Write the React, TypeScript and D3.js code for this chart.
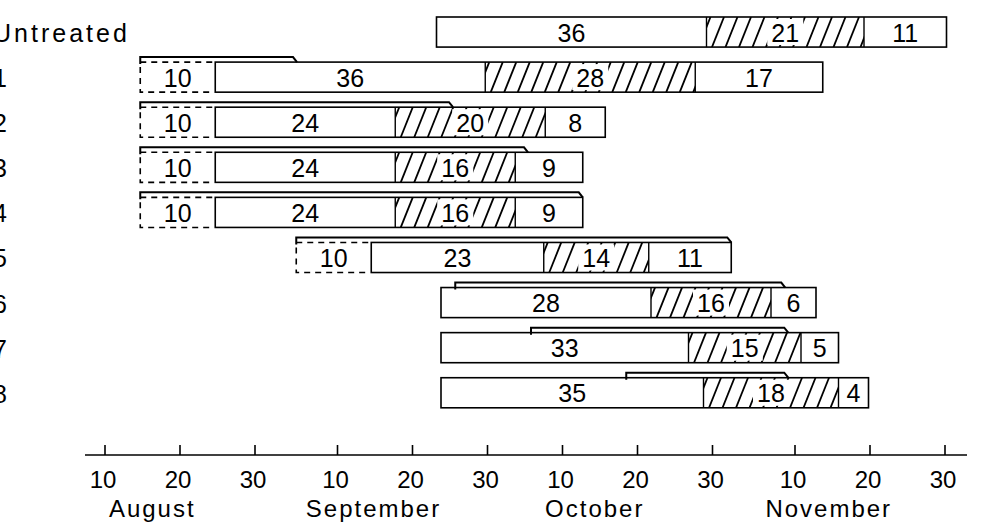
import React from "react";
import * as d3 from "d3";

// ---- data ----
const rowLabels = ["Untreated", "1", "2", "3", "4", "5", "6", "7", "8"];
// start of the solid bar, [month, day] (fractional day)
const barStart: [number, number][] = [
  [9, 23.2], [8, 24.7], [8, 24.7], [8, 24.7], [8, 24.7], [9, 14.5], [9, 23.8], [9, 23.8], [9, 23.8],
];
// dashed pre-period length (days)
const preDays = [0, 10, 10, 10, 10, 10, 0, 0, 0];
const phase1 = [36, 36, 24, 24, 24, 23, 28, 33, 35];
const phase2 = [21, 28, 20, 16, 16, 14, 16, 15, 18]; // hatched
const phase3 = [11, 17, 8, 9, 9, 11, 6, 5, 4];
// treatment period line above the bar
const treatStart: ([number, number] | null)[] = [
  null, [8, 14.7], [8, 14.7], [8, 14.7], [8, 14.7], [9, 4.5], [9, 25.7], [10, 5.8], [10, 18.5],
];
const treatEnd: ([number, number] | null)[] = [
  null, [9, 4.6], [9, 25.4], [10, 5.4], [10, 12.7], [11, 1.5], [11, 8.7], [11, 9.1], [11, 9.1],
];
const tickDates: [number, number][] = [
  [8, 10], [8, 20], [8, 30], [9, 10], [9, 20], [9, 30], [10, 10], [10, 20], [10, 30], [11, 10], [11, 20], [11, 30],
];
const tickLabels = ["10", "20", "30", "10", "20", "30", "10", "20", "30", "10", "20", "30"];
const monthLabels = ["August", "September", "October", "November"];
const monthLabelDates: [number, number][] = [[8, 16.3], [9, 14.8], [10, 14.3], [11, 14.5]];

const YEAR = 1981;
const DAY = 864e5;
const toDate = ([m, d]: [number, number]) => new Date(Date.UTC(YEAR, m - 1, 1) + (d - 1) * DAY);
const addDays = (dt: Date, n: number) => new Date(dt.getTime() + n * DAY);

const W = 987;
const H = 532;
const FONT = "'Liberation Sans', Arial, sans-serif";

export default function App() {
  const x = d3
    .scaleUtc()
    .domain([toDate([8, 10]), toDate([11, 30])])
    .range([105, 945]);
  const y = d3.scaleBand<string>().domain(rowLabels).range([17, 407.8]).paddingInner(0.333).paddingOuter(0);
  const bh = y.bandwidth();
  const axisY = 455;
  const hatchStep = 13.5;
  const hatchDx = 12;

  return (
    <svg
      width={W}
      height={H}
      viewBox={`0 0 ${W} ${H}`}
      style={{ position: "absolute", left: 0, top: 0, background: "#fff" }}
    >
      <rect x={0} y={0} width={W} height={H} fill="#fff" />
      <defs>
        {rowLabels.map((lab, i) => {
          const s = toDate(barStart[i]);
          const a = x(addDays(s, phase1[i]));
          const b = x(addDays(s, phase1[i] + phase2[i]));
          return (
            <clipPath id={`hc${i}`} key={i}>
              <rect x={a} y={y(lab)!} width={b - a} height={bh} />
            </clipPath>
          );
        })}
      </defs>

      {/* row labels */}
      {rowLabels.map((lab, i) => (
        <text
          key={"l" + i}
          x={-7}
          y={y(lab)! + bh / 2 + 10}
          fontFamily={FONT}
          fontSize={25}
          letterSpacing={i === 0 ? 3 : 0}
          fill="#000"
        >
          {lab}
        </text>
      ))}

      {rowLabels.map((lab, i) => {
        const top = y(lab)!;
        const bot = top + bh;
        const s = toDate(barStart[i]);
        const x0 = x(s);
        const x1 = x(addDays(s, phase1[i]));
        const x2 = x(addDays(s, phase1[i] + phase2[i]));
        const x3 = x(addDays(s, phase1[i] + phase2[i] + phase3[i]));
        const cy = top + bh / 2 + 9.5;
        const hatchXs = d3.range(x1 - hatchDx + 4, x2, hatchStep);
        const nums = [phase1[i], phase2[i], phase3[i]];
        const centers = [(x0 + x1) / 2, (x1 + x2) / 2, (x2 + x3) / 2];
        const elems: React.ReactNode[] = [];

        // dashed pre-period
        if (preDays[i] > 0) {
          const px = x(addDays(s, -preDays[i]));
          elems.push(
            <path
              key="pre"
              d={`M${x0 - 3},${top} L${px},${top} L${px},${bot} L${x0 - 3},${bot}`}
              fill="none"
              stroke="#000"
              strokeWidth={1.6}
              strokeDasharray="6 5"
            />
          );
          elems.push(
            <text
              key="pret"
              x={(px + x0) / 2}
              y={cy}
              textAnchor="middle"
              fontFamily={FONT}
              fontSize={25}
              fill="#000"
            >
              {preDays[i]}
            </text>
          );
        }

        // hatching
        elems.push(
          <g key="hatch" clipPath={`url(#hc${i})`}>
            {hatchXs.map((hx, k) => (
              <line key={k} x1={hx} y1={bot} x2={hx + hatchDx} y2={top} stroke="#000" strokeWidth={1.8} />
            ))}
          </g>
        );

        // solid box
        elems.push(
          <rect key="box" x={x0} y={top} width={x3 - x0} height={bh} fill="none" stroke="#000" strokeWidth={1.6} />
        );
        elems.push(<line key="d1" x1={x1} y1={top} x2={x1} y2={bot} stroke="#000" strokeWidth={1.4} />);
        elems.push(<line key="d2" x1={x2} y1={top} x2={x2} y2={bot} stroke="#000" strokeWidth={1.4} />);

        // numbers
        nums.forEach((n, k) => {
          const str = String(n);
          const tw = str.length * 14;
          if (k === 1) {
            elems.push(
              <rect key={"bg" + k} x={centers[k] - tw / 2 - 4} y={top + 2} width={tw + 8} height={bh - 4} fill="#fff" />
            );
          }
          elems.push(
            <text
              key={"n" + k}
              x={centers[k]}
              y={cy}
              textAnchor="middle"
              fontFamily={FONT}
              fontSize={25}
              fill="#000"
            >
              {str}
            </text>
          );
        });

        // treatment line
        const ts = treatStart[i];
        const te = treatEnd[i];
        if (ts && te) {
          const a = x(toDate(ts));
          const b = x(toDate(te));
          const ly = top - 5;
          elems.push(
            <path
              key="treat"
              d={`M${a},${top + 2} L${a},${ly} L${b - 4},${ly} L${b},${top}`}
              fill="none"
              stroke="#000"
              strokeWidth={2}
            />
          );
        }
        return <g key={"r" + i}>{elems}</g>;
      })}

      {/* axis */}
      <line x1={85} y1={axisY} x2={967} y2={axisY} stroke="#000" strokeWidth={1.6} />
      {tickDates.map((t, i) => {
        const tx = x(toDate(t));
        return (
          <g key={"t" + i}>
            <line x1={tx} y1={axisY} x2={tx} y2={axisY - 10} stroke="#000" strokeWidth={1.6} />
            <text x={tx - 2} y={488} textAnchor="middle" fontFamily={FONT} fontSize={24} fill="#000">
              {tickLabels[i]}
            </text>
          </g>
        );
      })}
      {monthLabels.map((m, i) => (
        <text
          key={"m" + i}
          x={x(toDate(monthLabelDates[i]))}
          y={517}
          textAnchor="middle"
          fontFamily={FONT}
          fontSize={24}
          letterSpacing={2}
          fill="#000"
        >
          {m}
        </text>
      ))}
    </svg>
  );
}
